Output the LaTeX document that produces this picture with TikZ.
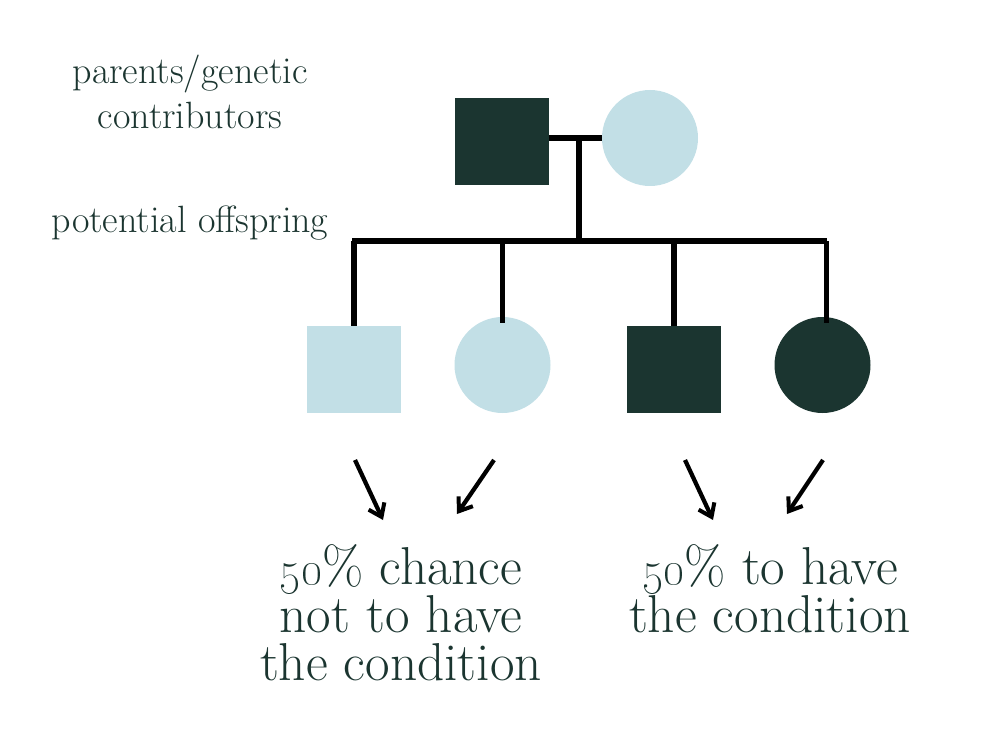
\documentclass[tikz,border=0pt]{standalone}
\usepackage{tikz}
\usetikzlibrary{arrows.meta}
\definecolor{pine}{RGB}{27,53,48}
\definecolor{mist}{RGB}{194,223,230}

\begin{document}
\begin{tikzpicture}[x=0.75pt, y=-0.75pt,
    >={Straight Barb[length=9pt, width=13pt, line width=3pt]},
    link/.style={line width=3.9pt},
    point/.style={line width=3.2pt, ->},
    male/.style={rectangle, minimum width=70.5pt, minimum height=65.25pt, inner sep=0pt},
    female/.style={circle, minimum size=72pt, inner sep=0pt},
    hit/.style={fill=pine}, clear/.style={fill=mist},
    note/.style={text=pine, align=center, inner sep=0pt, font=\fontsize{28.5}{34}\selectfont},
    verdict/.style={text=pine, align=center, inner sep=0pt, font=\fontsize{40}{36}\selectfont}]
  \useasboundingbox (0,0) rectangle (992,731);
  % Side labels
  \node[note, anchor=north] (gen1) at (190,54.5) {parents/genetic\\contributors};
  \node[note, anchor=base] (gen2) at (190,232) {potential offspring};
  % Parents
  \node[male, hit] (dad) at (502,141.5) {};
  \node[female, clear] (mum) at (650,138) {};
  \coordinate (knot) at (579,138);
  \coordinate (bar) at (579,241);
  \draw[link] (dad.east |- knot) -- (mum.west |- knot);
  \draw[link] (knot) -- (bar);
  % Offspring
  \node[male, clear] (kid1) at (354,369.5) {};
  \node[female, clear] (kid2) at (502.5,365) {};
  \node[male, hit] (kid3) at (674,369.5) {};
  \node[female, hit] (kid4) at (822.5,365) {};
  \draw[link] ([xshift=-1.5pt]kid1.north |- bar) -- ([xshift=3.3pt]kid4.north |- bar);
  \foreach \k in {1,3} {
    \draw[link] (kid\k.north |- bar) -- (kid\k.north);
  }
  \foreach \k/\dx in {2/0pt, 4/3pt} {
    \draw[link] ([xshift=\dx]kid\k.north |- bar) -- ([xshift=\dx, yshift=-4.5pt]kid\k.north);
  }
  % Arrows to the outcomes
  \foreach \n/\sx/\ex/\ey in {a/355/383/520, b/494/457/514, c/685/713/520, d/823/787/514} {
    \coordinate (\n0) at (\sx,460);
    \coordinate (\n1) at (\ex,\ey);
    \draw[point] (\n0) -- (\n1);
  }
  % Outcomes
  \node[verdict, anchor=north] (odds0) at (401,544)
    {\oldstylenums{50}\% chance\\not to have\\the condition};
  \node[verdict, anchor=north] (odds1) at (770,544)
    {\oldstylenums{50}\% to have\\the condition};
\end{tikzpicture}
\end{document}
